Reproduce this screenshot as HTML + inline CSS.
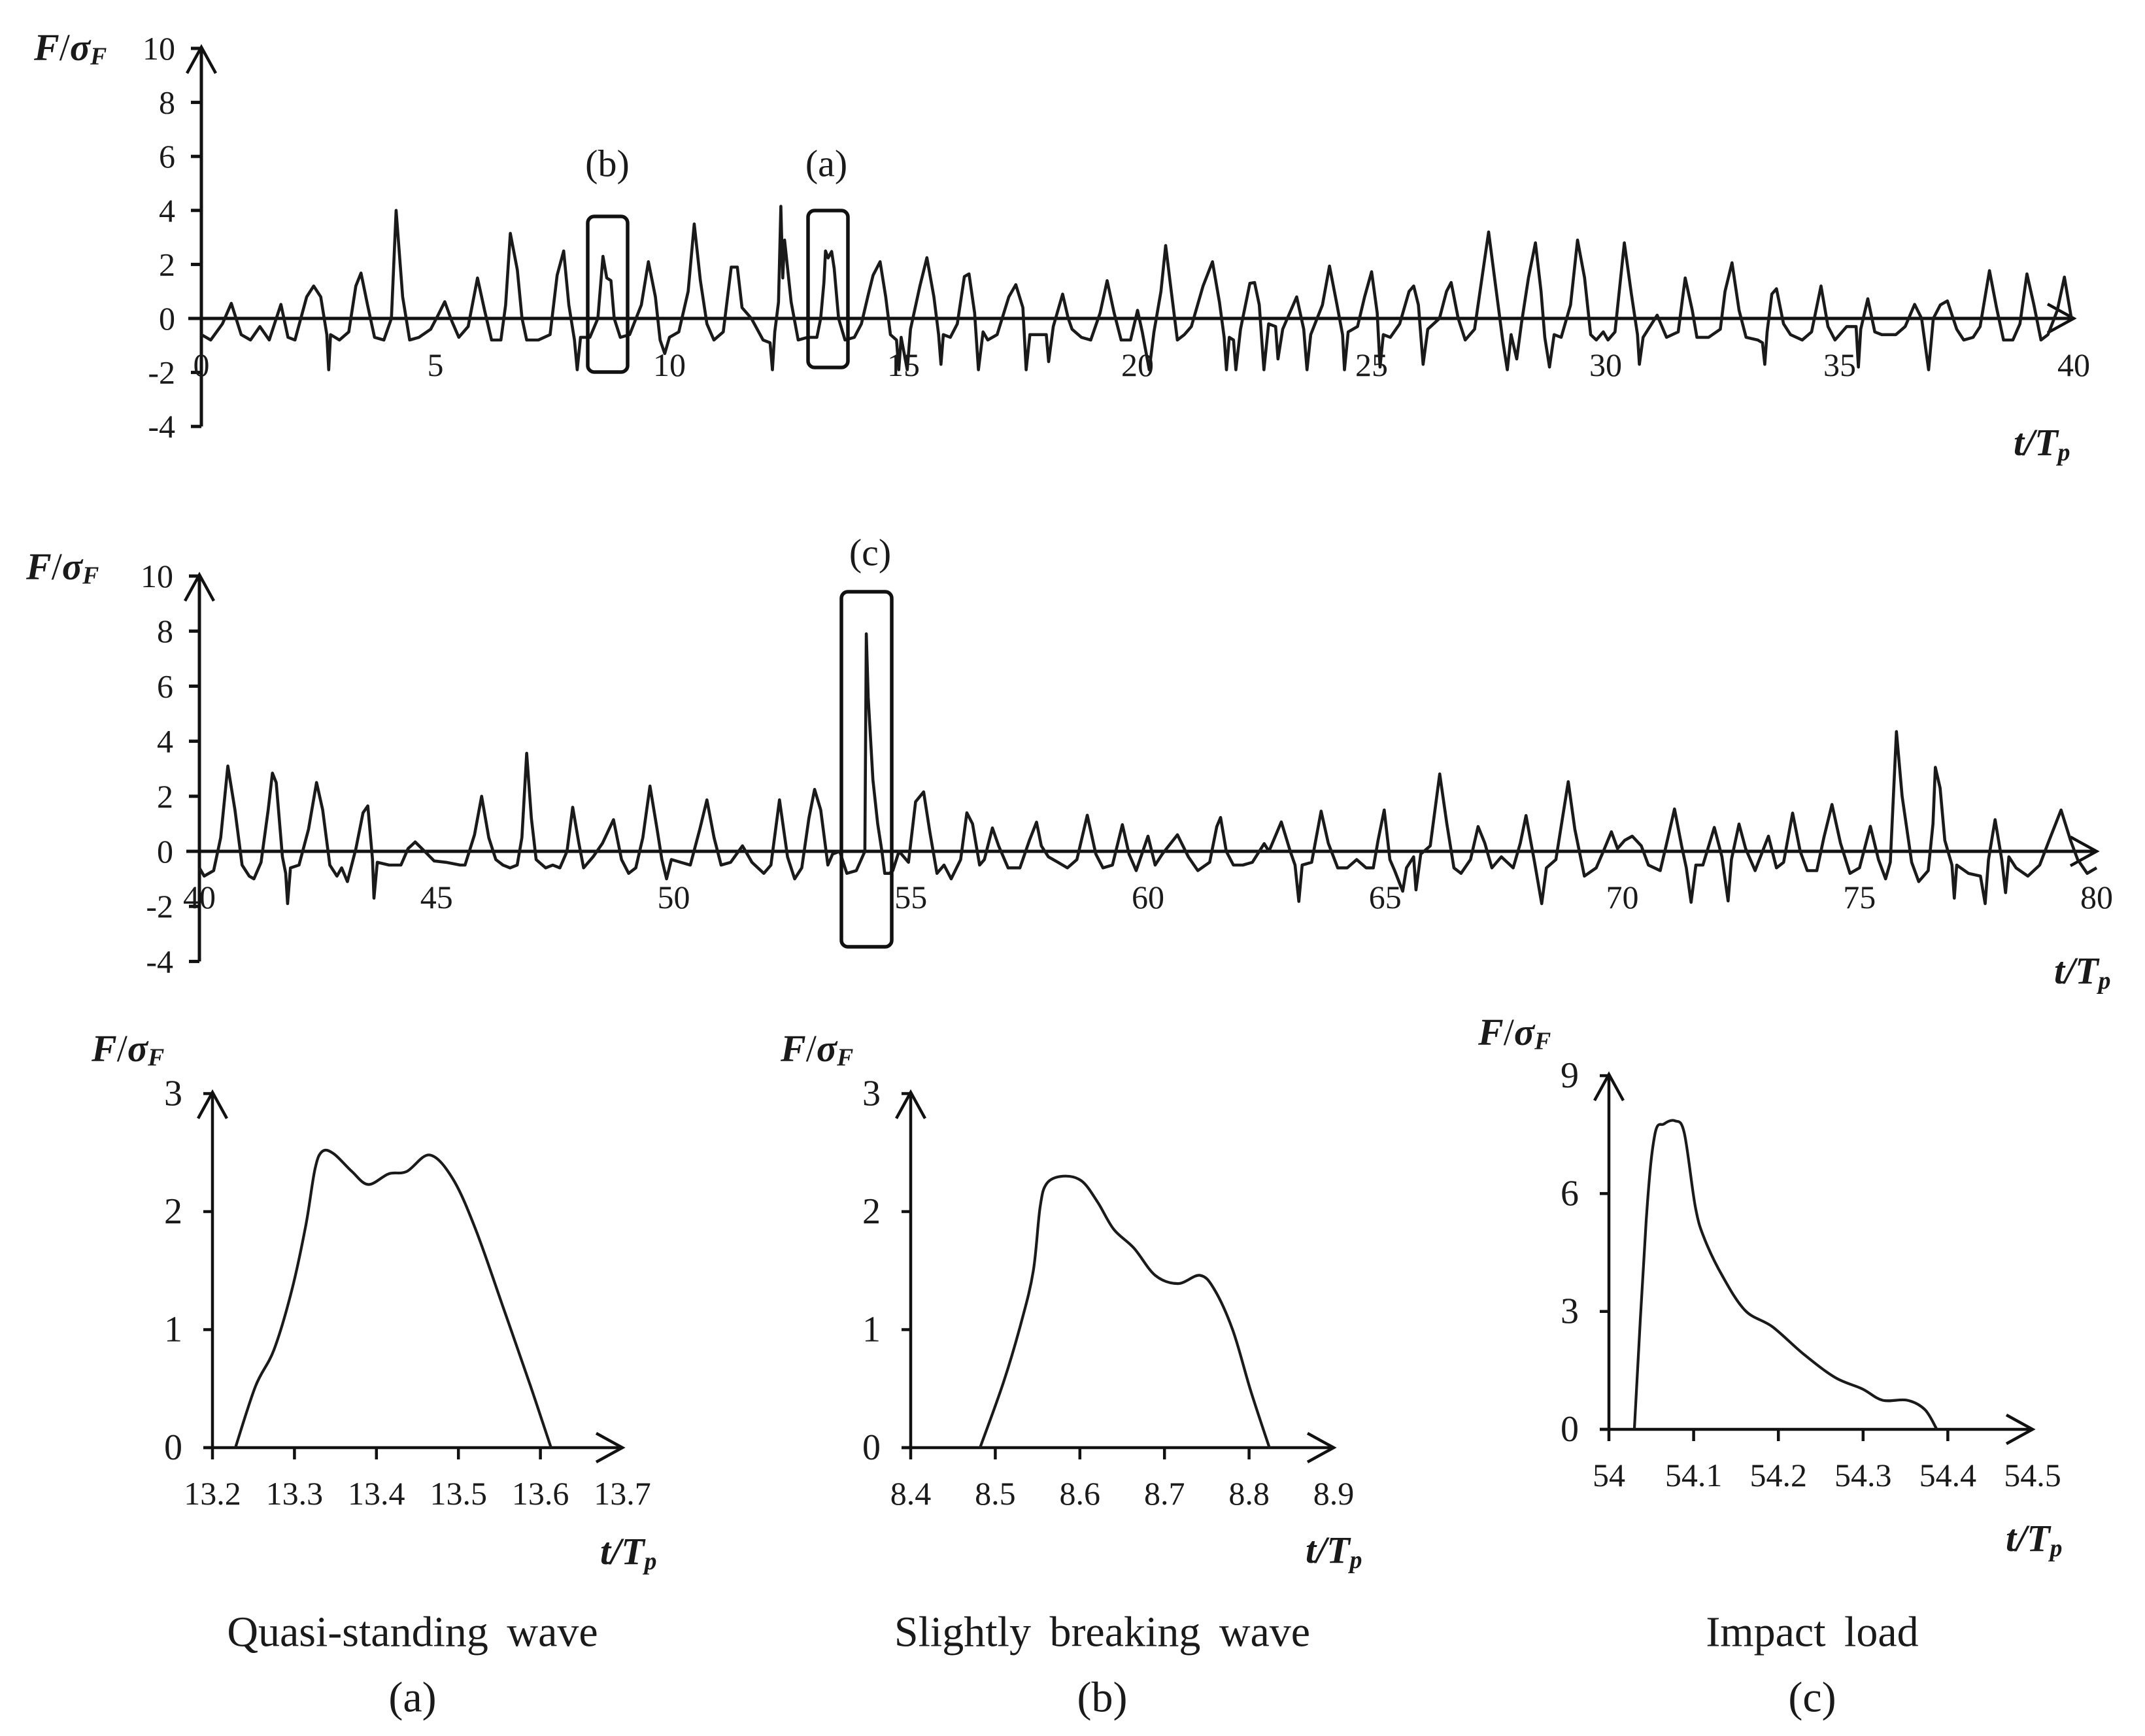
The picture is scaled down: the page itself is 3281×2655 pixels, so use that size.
<!DOCTYPE html>
<html><head><meta charset="utf-8"><style>
html,body{margin:0;padding:0;background:#fff;}
svg{display:block;}
text{font-family:"Liberation Serif",serif;fill:#1a1a1a;}
</style></head><body>
<svg id="fig" xmlns="http://www.w3.org/2000/svg" width="3281" height="2655" viewBox="0 0 3281 2655"></svg>
<script>
// ---- data: top time series (t/Tp 0-40) ----
const topT=[0,0.2,0.45,0.64,0.85,1.05,1.25,1.45,1.6,1.7,1.85,2.0,2.25,2.4,2.55,2.68,2.72,2.76,2.95,3.15,3.3,3.41,3.55,3.7,3.9,4.06,4.16,4.3,4.45,4.65,4.9,5.05,5.2,5.35,5.5,5.7,5.9,6.05,6.2,6.4,6.5,6.6,6.75,6.85,6.95,7.2,7.45,7.6,7.74,7.85,7.97,8.03,8.1,8.3,8.47,8.58,8.66,8.75,8.82,8.95,9.15,9.4,9.55,9.7,9.8,9.9,10.0,10.2,10.4,10.53,10.66,10.8,10.95,11.15,11.32,11.45,11.55,11.75,12.0,12.15,12.2,12.25,12.33,12.38,12.42,12.46,12.6,12.75,12.95,13.15,13.23,13.3,13.334,13.39,13.465,13.52,13.613,13.75,13.95,14.1,14.25,14.35,14.5,14.62,14.72,14.85,14.9,14.95,15.08,15.15,15.35,15.5,15.65,15.75,15.8,15.85,16.0,16.15,16.3,16.4,16.52,16.6,16.7,16.8,17.0,17.25,17.4,17.55,17.62,17.7,17.9,18.05,18.1,18.2,18.4,18.52,18.6,18.8,19.0,19.2,19.35,19.5,19.65,19.85,20.0,20.1,20.25,20.35,20.5,20.6,20.72,20.85,21.0,21.15,21.4,21.6,21.75,21.85,21.9,21.96,22.05,22.1,22.2,22.4,22.5,22.6,22.7,22.8,22.95,23.0,23.1,23.4,23.55,23.62,23.7,23.95,24.1,24.25,24.38,24.42,24.5,24.7,24.85,25.0,25.12,25.18,25.25,25.4,25.6,25.8,25.9,26.0,26.1,26.2,26.45,26.6,26.7,26.85,27.0,27.2,27.4,27.5,27.65,27.8,27.9,27.98,28.1,28.2,28.35,28.5,28.62,28.7,28.8,28.9,29.05,29.25,29.4,29.55,29.68,29.8,29.95,30.05,30.2,30.4,30.55,30.68,30.72,30.8,31.1,31.3,31.55,31.7,31.85,31.95,32.2,32.45,32.55,32.7,32.85,33.0,33.25,33.35,33.4,33.45,33.55,33.65,33.8,33.95,34.2,34.4,34.6,34.75,34.9,35.05,35.15,35.35,35.4,35.45,35.6,35.75,35.9,36.05,36.2,36.4,36.6,36.75,36.9,37.0,37.15,37.3,37.5,37.65,37.85,38.0,38.2,38.35,38.5,38.7,38.85,39.0,39.15,39.3,39.45,39.65,39.8,39.95];
const topF=[-0.6,-0.8,-0.2,0.56,-0.6,-0.8,-0.3,-0.8,0.0,0.52,-0.7,-0.8,0.8,1.2,0.8,-0.6,-1.9,-0.6,-0.8,-0.5,1.2,1.68,0.5,-0.7,-0.8,0.0,4.0,0.8,-0.8,-0.7,-0.4,0.1,0.62,-0.1,-0.7,-0.3,1.5,0.3,-0.8,-0.8,0.5,3.15,1.8,0.0,-0.8,-0.8,-0.6,1.6,2.5,0.5,-0.8,-1.9,-0.7,-0.7,0.0,2.3,1.5,1.4,0.0,-0.7,-0.6,0.5,2.1,0.8,-0.8,-1.3,-0.7,-0.5,1.0,3.5,1.4,-0.2,-0.8,-0.5,1.9,1.9,0.4,0.0,-0.8,-0.9,-1.9,-0.5,0.6,4.15,1.5,2.9,0.6,-0.8,-0.7,-0.7,0,1.34,2.5,2.24,2.48,1.85,0,-0.8,-0.7,-0.2,0.9,1.6,2.1,0.8,-0.6,-0.8,-1.9,-0.7,-1.9,-0.4,1.2,2.25,0.8,-0.6,-1.7,-0.6,-0.7,-0.2,1.55,1.65,0.2,-1.9,-0.5,-0.8,-0.6,0.8,1.25,0.4,-1.9,-0.6,-0.6,-0.6,-1.6,-0.3,0.9,0.0,-0.4,-0.7,-0.8,0.2,1.4,0.2,-0.8,-0.8,0.3,-0.5,-1.9,-0.5,1.0,2.7,1.0,-0.8,-0.6,-0.3,1.2,2.1,0.6,-0.7,-1.9,-0.7,-0.8,-1.9,-0.4,1.3,1.33,0.5,-1.9,-0.2,-0.3,-1.5,-0.4,0.8,-0.4,-1.9,-0.6,0.5,1.94,0.6,-0.6,-1.9,-0.5,-0.3,0.8,1.73,0.2,-1.8,-0.6,-0.7,-0.2,1.0,1.2,0.5,-1.7,-0.4,0.0,1.0,1.33,0.0,-0.8,-0.4,2.0,3.2,1.2,-0.8,-1.9,-0.6,-1.5,-0.2,1.5,2.8,1.0,-0.7,-1.8,-0.6,-0.7,0.5,2.9,1.5,-0.6,-0.8,-0.5,-0.8,-0.5,2.8,0.9,-0.6,-1.7,-0.7,0.12,-0.7,-0.5,1.5,0.3,-0.7,-0.7,-0.4,1.0,2.06,0.3,-0.7,-0.8,-0.9,-1.7,-0.5,0.9,1.1,-0.2,-0.6,-0.8,-0.5,1.2,-0.3,-0.8,-0.5,-0.3,-0.3,-1.8,-0.4,0.73,-0.5,-0.6,-0.6,-0.6,-0.3,0.52,0.0,-1.9,0.0,0.5,0.65,-0.4,-0.8,-0.7,-0.3,1.77,0.4,-0.8,-0.8,-0.2,1.65,0.5,-0.8,-0.6,0.3,1.53,0.0];
// ---- data: middle time series (t/Tp 40-80) ----
const midT=[40,40.1,40.3,40.45,40.6,40.75,40.9,41.05,41.15,41.3,41.45,41.54,41.62,41.75,41.82,41.86,41.92,42.1,42.3,42.47,42.6,42.75,42.9,43.0,43.12,43.3,43.45,43.55,43.65,43.68,43.75,44.0,44.25,44.4,44.55,44.75,44.95,45.2,45.5,45.6,45.8,45.95,46.1,46.25,46.4,46.55,46.7,46.8,46.9,47.0,47.1,47.3,47.45,47.6,47.75,47.87,48.0,48.1,48.3,48.5,48.73,48.9,49.05,49.2,49.35,49.5,49.65,49.75,49.85,49.95,50.15,50.35,50.55,50.7,50.85,51.0,51.2,51.45,51.65,51.9,52.05,52.23,52.4,52.55,52.7,52.85,52.97,53.1,53.25,53.35,53.5,53.65,53.85,54.03,54.06,54.1,54.2,54.3,54.39,54.45,54.55,54.62,54.75,54.95,55.1,55.27,55.4,55.55,55.7,55.85,56.05,56.18,56.3,56.45,56.55,56.72,56.85,57.05,57.3,57.5,57.65,57.75,57.9,58.1,58.3,58.5,58.72,58.9,59.05,59.25,59.46,59.6,59.75,60.0,60.15,60.3,60.62,60.85,61.05,61.3,61.45,61.53,61.65,61.8,62.0,62.2,62.45,62.55,62.81,63.0,63.1,63.18,63.25,63.45,63.65,63.8,64.0,64.2,64.4,64.6,64.75,64.85,64.98,65.1,65.2,65.37,65.45,65.6,65.65,65.75,65.95,66.15,66.3,66.45,66.6,66.8,66.96,67.1,67.25,67.45,67.7,67.85,67.97,68.15,68.3,68.4,68.6,68.86,69.0,69.2,69.45,69.6,69.77,69.9,70.05,70.21,70.4,70.55,70.8,70.95,71.1,71.25,71.35,71.45,71.55,71.7,71.94,72.1,72.23,72.3,72.46,72.6,72.8,73.08,73.25,73.4,73.59,73.75,73.9,74.1,74.25,74.42,74.6,74.8,75.0,75.23,75.4,75.55,75.65,75.78,75.9,76.1,76.25,76.45,76.55,76.6,76.7,76.8,76.95,77.0,77.05,77.3,77.55,77.65,77.72,77.86,78.0,78.08,78.15,78.3,78.55,78.8,79.0,79.25,79.45,79.6,79.8,80.0];
const midF=[-0.6,-0.9,-0.7,0.5,3.1,1.5,-0.5,-0.9,-1.0,-0.4,1.5,2.84,2.5,-0.2,-0.8,-1.9,-0.6,-0.5,0.8,2.5,1.5,-0.5,-0.9,-0.6,-1.1,0.1,1.4,1.65,-0.3,-1.7,-0.4,-0.5,-0.5,0.1,0.34,0.0,-0.35,-0.4,-0.5,-0.5,0.6,2.0,0.5,-0.3,-0.5,-0.6,-0.5,0.5,3.56,1.2,-0.3,-0.6,-0.5,-0.6,0.0,1.6,0.3,-0.6,-0.2,0.3,1.15,-0.3,-0.8,-0.6,0.5,2.37,0.8,-0.3,-1.0,-0.3,-0.4,-0.5,0.8,1.87,0.5,-0.5,-0.4,0.2,-0.4,-0.8,-0.5,1.87,-0.2,-1.0,-0.6,1.2,2.25,1.5,-0.5,-0.1,0.0,-0.8,-0.7,0,7.9,5.6,2.6,1.0,0,-0.8,-0.8,-0.7,0.0,-0.4,1.8,2.16,0.7,-0.8,-0.5,-1.0,-0.3,1.4,1.0,-0.5,-0.3,0.85,0.2,-0.6,-0.6,0.4,1.06,0.2,-0.2,-0.4,-0.6,-0.3,1.31,-0.1,-0.6,-0.5,0.97,-0.1,-0.7,0.55,-0.5,-0.1,0.6,-0.2,-0.7,-0.4,0.9,1.23,0.0,-0.5,-0.5,-0.4,0.28,0.0,1.07,0.0,-0.5,-1.82,-0.5,-0.4,1.46,0.3,-0.6,-0.6,-0.3,-0.6,-0.6,0.4,1.5,-0.3,-0.7,-1.45,-0.6,-0.2,-1.4,-0.1,0.2,2.81,1.0,-0.6,-0.8,-0.3,0.9,0.3,-0.6,-0.2,-0.6,0.3,1.3,-0.4,-1.9,-0.6,-0.3,2.53,0.8,-0.9,-0.6,0.0,0.71,0.1,0.4,0.55,0.2,-0.5,-0.7,0.4,1.54,0.2,-0.6,-1.85,-0.5,-0.5,0.87,-0.2,-1.8,-0.3,0.99,0.1,-0.7,0.55,-0.6,-0.4,1.39,0.0,-0.7,-0.7,0.5,1.7,0.3,-0.8,-0.6,0.91,-0.3,-1.0,-0.4,4.35,2.0,-0.4,-1.1,-0.7,1.0,3.05,2.3,0.4,-0.5,-1.7,-0.5,-0.8,-0.9,-1.9,-0.3,1.15,-0.3,-1.5,-0.2,-0.6,-0.9,-0.5,0.4,1.5,0.4,-0.3,-0.8,-0.6];
// ---- detail panels ----
const aT=[13.228,13.2525,13.275,13.297,13.314,13.325,13.334,13.348,13.37,13.39,13.415,13.437,13.465,13.493,13.521,13.555,13.588,13.613];
const aF=[0,0.52,0.83,1.34,1.89,2.36,2.51,2.49,2.34,2.23,2.32,2.34,2.48,2.28,1.85,1.18,0.52,0];
const bT=[8.482,8.51,8.531,8.545,8.553,8.561,8.58,8.602,8.621,8.64,8.664,8.689,8.716,8.742,8.759,8.781,8.802,8.824];
const bF=[0,0.56,1.07,1.5,2.04,2.24,2.3,2.26,2.08,1.85,1.69,1.46,1.39,1.46,1.34,0.99,0.48,0];
const cT=[54.03,54.044,54.054,54.065,54.078,54.089,54.102,54.113,54.134,54.161,54.193,54.23,54.267,54.299,54.323,54.352,54.373,54.387];
const cF=[0,5.31,7.48,7.77,7.85,7.54,5.66,4.84,3.9,3.02,2.61,1.91,1.32,1.03,0.74,0.74,0.5,0];
const topYTicks=[10,8,6,4,2,0,-2,-4];
const topXTicks=[0,5,10,15,20,25,30,35,40];
const midXTicks=[40,45,50,55,60,65,70,75,80];
const aXTicks=["13.2","13.3","13.4","13.5","13.6","13.7"];
const bXTicks=["8.4","8.5","8.6","8.7","8.8","8.9"];
const cXTicks=["54","54.1","54.2","54.3","54.4","54.5"];
const abYTicks=[0,1,2,3];
const cYTicks=[0,3,6,9];

const NS="http://www.w3.org/2000/svg";
const svg=document.getElementById('fig');
function mk(tag,attrs,parent){const e=document.createElementNS(NS,tag);for(const k in attrs)e.setAttribute(k,attrs[k]);(parent||svg).appendChild(e);return e;}
function txt(s,x,y,size,anchor,parent){const e=mk('text',{x:x,y:y,'font-size':size,'text-anchor':anchor||'middle','dominant-baseline':'central'},parent);e.textContent=s;return e;}
function axisLabelF(x,y,size,parent){
  const e=mk('text',{x:x,y:y,'font-size':size,'dominant-baseline':'central'},parent);
  
  
  e.innerHTML='<tspan font-weight="bold" font-style="italic">F</tspan><tspan>/</tspan><tspan font-weight="bold" font-style="italic">σ</tspan><tspan font-weight="bold" font-style="italic" font-size="'+(size*0.65)+'" dy="'+(size*0.25)+'">F</tspan>';
}
function axisLabelT(x,y,size,parent){
  const e=mk('text',{x:x,y:y,'font-size':size,'dominant-baseline':'central'},parent);
  
  
  e.innerHTML='<tspan font-weight="bold" font-style="italic">t</tspan><tspan font-weight="bold" font-style="italic">/T</tspan><tspan font-weight="bold" font-style="italic" font-size="'+(size*0.65)+'" dy="'+(size*0.28)+'">p</tspan>';
}
function arrowUp(x,y,g){mk('path',{d:`M${x-22} ${y+40} L${x} ${y} L${x+22} ${y+40}`,fill:'none',stroke:'#111','stroke-width':4.5},g);}
function arrowRight(x,y,g){mk('path',{d:`M${x-40} ${y-22} L${x} ${y} L${x-40} ${y+22}`,fill:'none',stroke:'#111','stroke-width':4.5},g);}
function smoothPath(P){
  let d='M'+P[0][0].toFixed(1)+' '+P[0][1].toFixed(1);
  for(let i=0;i<P.length-1;i++){
    const p0=P[i-1]||P[i],p1=P[i],p2=P[i+1],p3=P[i+2]||P[i+1];
    const c1x=p1[0]+(p2[0]-p0[0])/6,c1y=p1[1]+(p2[1]-p0[1])/6;
    const c2x=p2[0]-(p3[0]-p1[0])/6,c2y=p2[1]-(p3[1]-p1[1])/6;
    d+=' C'+c1x.toFixed(1)+' '+c1y.toFixed(1)+' '+c2x.toFixed(1)+' '+c2y.toFixed(1)+' '+p2[0].toFixed(1)+' '+p2[1].toFixed(1);
  }
  return d;
}

function longChart(name,T,F,cfg){
  const g=mk('g',{});
  
  
  const X=t=>cfg.x0+(t-cfg.t0)*cfg.px;
  const Y=v=>cfg.y0-v*cfg.py;
  const ya=mk('line',{x1:cfg.x0,y1:Y(10)-2,x2:cfg.x0,y2:Y(-4),stroke:'#111','stroke-width':5},g);
  
  
  arrowUp(cfg.x0,Y(10)-2,g);
  topYTicks.forEach(v=>{
    mk('line',{x1:cfg.x0-16,y1:Y(v),x2:cfg.x0,y2:Y(v),stroke:'#111','stroke-width':5},g);
    const l=txt(String(v),cfg.yLabX,Y(v),50,'end',g);
    
    
  });
  const xa=mk('line',{x1:cfg.x0-20,y1:cfg.y0,x2:X(cfg.t1),y2:cfg.y0,stroke:'#111','stroke-width':5},g);
  
  
  arrowRight(X(cfg.t1),cfg.y0,g);
  cfg.xt.forEach(v=>{
    const l=txt(String(v),X(v),cfg.xLabY,50,'middle',g);
    
    
  });
  const pts=T.map((t,i)=>X(t).toFixed(1)+','+Y(F[i]).toFixed(1)).join(' ');
  const pl=mk('polyline',{points:pts,fill:'none',stroke:'#1a1a1a','stroke-width':4.6,'stroke-linejoin':'round'},g);
  
  
  axisLabelF(cfg.fx,cfg.fy,58,g);
  axisLabelT(cfg.tx,cfg.ty,58,g);
  return {X:X,Y:Y,g:g};
}
const topChart=longChart('top-time-series-chart',topT,topF,{x0:308,t0:0,t1:40,px:71.6,y0:487,py:41.3,yLabX:268,xLabY:558,xt:topXTicks,fx:52,fy:72,tx:3080,ty:676});
const midChart=longChart('middle-time-series-chart',midT,midF,{x0:305,t0:40,t1:80,px:72.55,y0:1302,py:42.1,yLabX:265,xLabY:1372,xt:midXTicks,fx:40,fy:866,tx:3142,ty:1484});

function box(x1,y1,x2,y2,name,g){const r=mk('rect',{x:x1,y:y1,width:x2-x1,height:y2-y1,rx:10,fill:'none',stroke:'#111','stroke-width':5.5},g);}
box(899,331,960,569,'highlight-box-b',topChart.g);
box(1236,322,1297,562,'highlight-box-a',topChart.g);
box(1287,905,1364,1448,'highlight-box-c',midChart.g);
let lbl;
lbl=txt('(b)',929,250,58,'middle',topChart.g);


lbl=txt('(a)',1264,250,58,'middle',topChart.g);


lbl=txt('(c)',1331,845,58,'middle',midChart.g);



function panel(name,T,F,cfg){
  const g=mk('g',{});
  
  
  const X=t=>cfg.x0+(t-cfg.t0)*cfg.px;
  const Y=v=>cfg.y0-v*cfg.py;
  const yTop=Y(cfg.ymax);
  const ya=mk('line',{x1:cfg.x0,y1:yTop-2,x2:cfg.x0,y2:cfg.y0,stroke:'#111','stroke-width':4.5},g);
  
  
  arrowUp(cfg.x0,yTop-2,g);
  cfg.yt.forEach(v=>{
    mk('line',{x1:cfg.x0-14,y1:Y(v),x2:cfg.x0,y2:Y(v),stroke:'#111','stroke-width':4.5},g);
    const e=txt(String(v),cfg.x0-46,Y(v),56,'end',g);
    
    
  });
  const xEnd=X(cfg.t0+0.5);
  const xa=mk('line',{x1:cfg.x0-14,y1:cfg.y0,x2:xEnd,y2:cfg.y0,stroke:'#111','stroke-width':4.5},g);
  
  
  arrowRight(xEnd,cfg.y0,g);
  cfg.xt.forEach((s,i)=>{
    const xv=X(cfg.t0+i*0.1);
    if(i<cfg.xt.length-1) mk('line',{x1:xv,y1:cfg.y0,x2:xv,y2:cfg.y0+18,stroke:'#111','stroke-width':4.5},g);
    const e=txt(s,xv,cfg.y0+70,50,'middle',g);
    e.setAttribute('font-family','"Liberation Sans",sans-serif');
    
    
  });
  const P=T.map((t,i)=>[X(t),Y(F[i])]);
  const pl=mk('path',{d:smoothPath(P),fill:'none',stroke:'#1a1a1a','stroke-width':4.2,'stroke-linejoin':'round'},g);
  
  
  axisLabelF(cfg.fx,cfg.fy,58,g);
  axisLabelT(cfg.tx,cfg.ty,58,g);
  const c1=txt(cfg.cap,cfg.capX,2496,66,'middle',g);
  
  
  c1.setAttribute('word-spacing','12');
  const c2=txt(cfg.sub,cfg.capX,2596,66,'middle',g);
  
  
}
panel('panel-a-quasi-standing',aT,aF,{x0:325,t0:13.2,px:1254,y0:2214,py:180.5,ymax:3,yt:abYTicks,xt:aXTicks,fx:140,fy:1603,tx:918,ty:2372,cap:'Quasi-standing wave',sub:'(a)',capX:631});
panel('panel-b-slightly-breaking',bT,bF,{x0:1393,t0:8.4,px:1294,y0:2214,py:180.5,ymax:3,yt:abYTicks,xt:bXTicks,fx:1194,fy:1603,tx:1997,ty:2370,cap:'Slightly breaking wave',sub:'(b)',capX:1686});
panel('panel-c-impact-load',cT,cF,{x0:2461,t0:54,px:1296,y0:2186,py:60.1,ymax:9,yt:cYTicks,xt:cXTicks,fx:2261,fy:1578,tx:3068,ty:2352,cap:'Impact load',sub:'(c)',capX:2772});
</script>
</body></html>
